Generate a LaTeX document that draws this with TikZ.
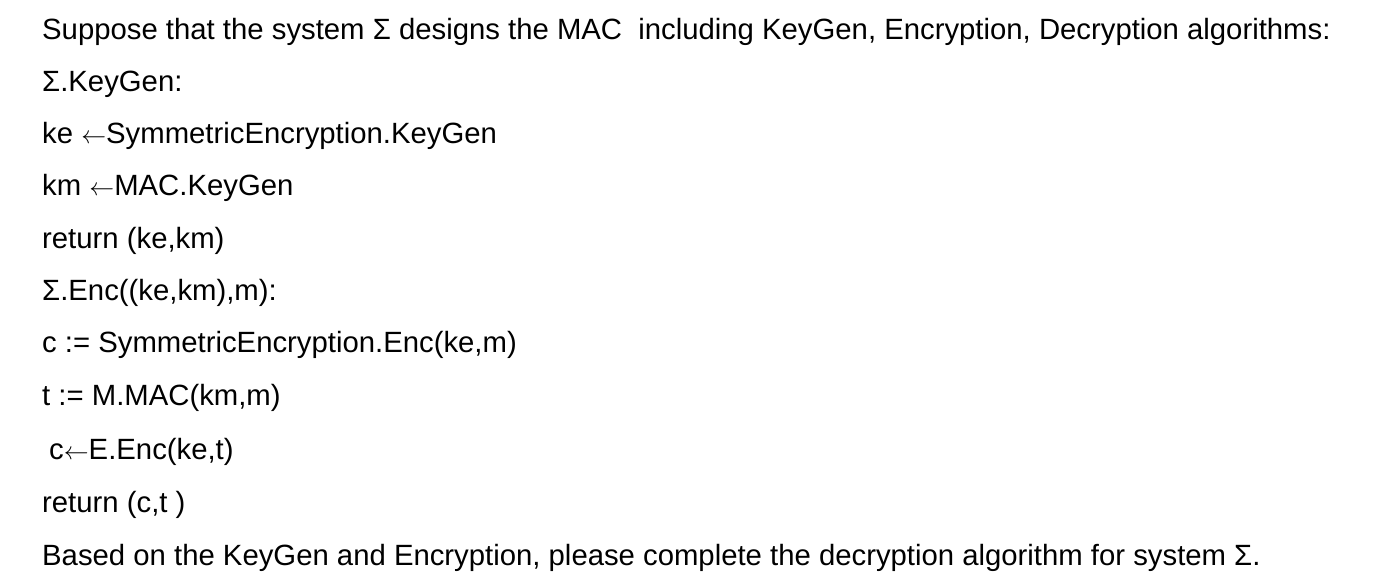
\documentclass[tikz,border=0pt]{standalone}
\usepackage{fontspec}
\setmainfont{Liberation Sans}
\begin{document}
\begin{tikzpicture}[x=1pt,y=-1pt,txt/.style={anchor=base west,inner sep=0pt,font=\fontsize{29.3}{33}\selectfont}]
\useasboundingbox (0,0) rectangle (1384,588);
\node[txt] (l1) at (42,40) {Suppose that the system Σ designs the MAC\ \ including KeyGen, Encryption, Decryption algorithms:};
\node[txt] (l2) at (42,92) {Σ.KeyGen:};
\node[txt] (l3) at (42,144) {ke $\leftarrow$SymmetricEncryption.KeyGen};
\node[txt] (l4) at (42,196) {km $\leftarrow$MAC.KeyGen};
\node[txt] (l5) at (42,248) {return (ke,km)};
\node[txt] (l6) at (42,300) {Σ.Enc((ke,km),m):};
\node[txt] (l7) at (42,352) {c := SymmetricEncryption.Enc(ke,m)};
\node[txt] (l8) at (42,405) {t := M.MAC(km,m)};
\node[txt] (l9) at (49,459) {c$\leftarrow$E.Enc(ke,t)};
\node[txt] (l10) at (42,512) {return (c,t )};
\node[txt] (l11) at (42,565) {Based on the KeyGen and Encryption, please complete the decryption algorithm for system Σ.};
\end{tikzpicture}
\end{document}
